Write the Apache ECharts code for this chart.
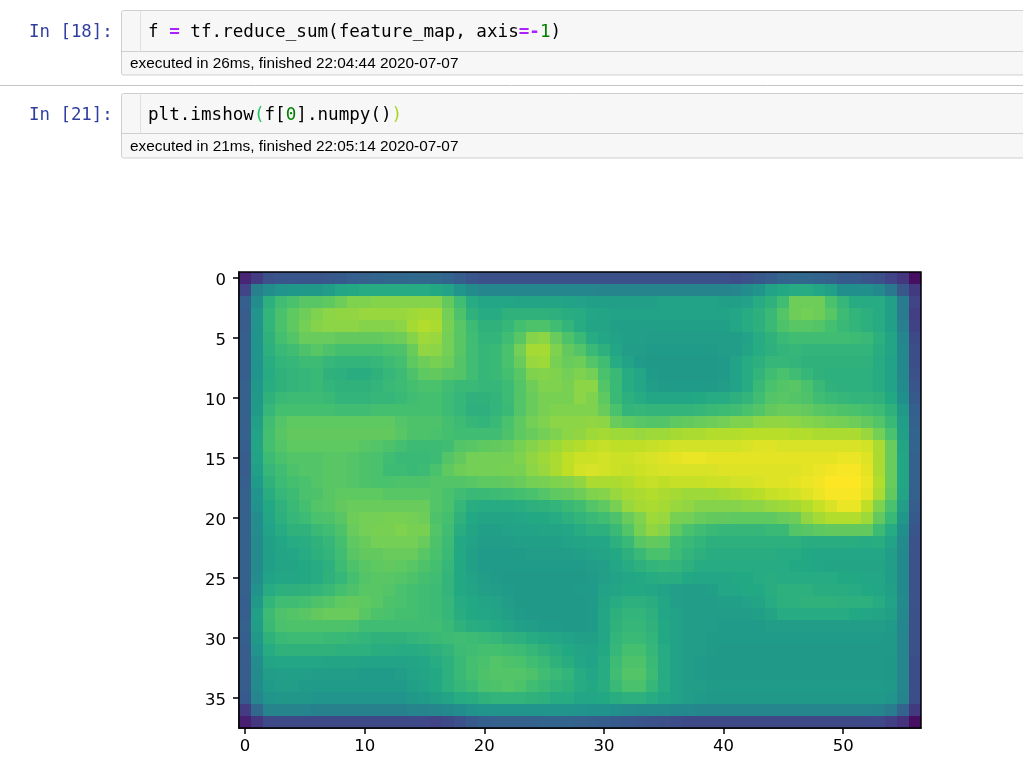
<!DOCTYPE html>
<html><head><meta charset="utf-8">
<style>html,body{margin:0;padding:0;background:#fff}#c{width:1023px;height:767px}</style>
<script src="https://cdn.jsdelivr.net/npm/echarts@6/dist/echarts.min.js"></script>
</head><body><div id="c"></div>
<script>
const xTicks = Array.from({length:57},(_,i)=>String(i));
const yTicks = Array.from({length:38},(_,i)=>String(i));
const footer1 = "executed in 26ms, finished 22:04:44 2020-07-07";
const footer2 = "executed in 21ms, finished 22:05:14 2020-07-07";
const rows = [
[8,15,22,24,24,24,24,25,26,28, 29,30,31,31,32,32,32,30,27,24, 22,22,22,22,22,22,22,22,22,22, 22,22,22,22,22,22,22,22,22,22, 22,21,23,25,27,30,31,31,30,29, 26,26,24,22,18,13,1],
[18,42,47,50,51,52,52,54,58,59, 60,60,60,60,60,60,59,56,50,46, 44,44,44,44,44,44,44,44,44,44, 43,43,43,43,43,43,43,43,43,43, 43,44,47,50,56,59,60,60,58,55, 48,48,48,45,38,25,14],
[28,47,62,68,70,73,73,74,77,80, 80,81,81,81,81,81,81,75,68,60, 58,58,58,57,57,57,57,56,56,55, 55,55,55,55,55,56,56,56,56,56, 55,55,56,60,63,68,77,77,77,70, 65,60,60,60,55,40,18],
[27,50,64,70,74,77,80,82,83,83, 84,84,84,84,85,86,86,78,71,63, 60,60,63,63,63,63,62,61,60,58, 57,56,56,56,56,56,56,56,56,56, 56,58,60,62,66,72,77,78,77,73, 67,64,62,60,55,40,16],
[27,50,64,70,74,78,81,82,82,82, 81,81,81,82,86,88,87,79,73,67, 63,63,65,69,71,71,68,64,60,57, 57,55,55,55,55,55,55,55,55,55, 55,58,60,62,66,71,73,73,72,69, 66,64,62,60,55,41,17],
[28,50,63,69,72,76,76,76,75,75, 75,75,76,77,81,85,84,78,73,68, 64,64,68,73,81,82,76,71,66,60, 58,56,55,55,54,54,54,54,54,54, 54,54,56,60,63,66,68,68,68,68, 68,67,66,62,57,44,20],
[28,50,62,66,68,71,73,71,69,69, 69,69,70,71,76,83,82,78,73,68, 65,66,70,78,86,86,80,75,72,66, 62,58,54,54,53,53,53,53,53,53, 54,54,57,60,62,64,65,64,64,64, 64,64,64,61,57,45,21],
[28,50,61,64,65,67,67,65,64,64, 64,65,67,69,74,77,79,77,72,68, 65,66,70,76,84,85,79,76,77,72, 68,60,56,53,52,52,52,52,52,52, 53,56,60,62,65,65,64,63,63,63, 63,63,63,60,56,45,21],
[28,50,60,63,64,65,66,63,62,61, 61,63,65,67,71,74,75,73,72,68, 65,66,69,73,80,81,80,78,80,78, 70,66,60,58,53,52,52,52,52,52, 53,56,60,64,68,70,68,65,63,62, 62,62,62,60,56,45,22],
[29,51,61,63,64,65,66,64,63,63, 63,64,66,67,69,70,70,68,66,66, 65,65,67,72,77,80,80,79,82,82, 72,66,60,58,54,53,53,53,53,53, 54,56,60,66,70,72,73,70,66,63, 62,62,62,60,56,46,24],
[29,52,63,66,67,67,67,66,64,64, 64,65,65,66,68,69,69,67,65,63, 63,64,67,72,76,79,79,79,82,80, 74,66,62,60,58,58,58,58,59,60, 60,62,64,68,72,73,72,71,68,66, 65,64,64,63,59,48,26],
[29,53,65,69,69,69,69,69,68,68, 68,69,69,69,69,69,69,67,65,62, 62,64,66,72,76,79,80,80,80,80, 76,70,64,65,64,64,64,64,65,66, 67,68,70,72,75,76,76,75,73,72, 71,70,69,67,63,52,28],
[29,55,68,72,74,74,74,74,74,74, 74,74,74,72,71,71,71,69,67,65, 64,66,70,74,78,80,82,82,82,83, 82,76,74,73,72,72,74,75,76,77, 78,80,80,82,83,83,82,81,80,79, 78,77,75,72,66,54,29],
[29,56,69,73,75,75,75,75,75,75, 75,75,75,73,71,71,70,69,68,68, 68,68,71,74,76,78,80,82,83,85, 86,85,85,84,85,85,86,87,87,88, 88,88,89,89,89,89,88,88,87,87, 87,87,84,78,70,55,30],
[28,57,69,72,74,74,74,74,74,74, 73,72,71,69,67,67,67,68,72,73, 74,75,76,79,81,83,85,87,88,90, 91,90,90,90,91,92,93,93,93,93, 93,93,94,95,95,94,94,94,94,94, 94,94,93,87,76,57,30],
[27,56,67,70,72,72,72,73,73,72, 71,70,68,66,66,66,67,72,75,78, 78,78,78,80,83,85,87,90,92,92, 93,92,92,93,94,95,96,97,97,96, 96,96,96,96,96,96,96,96,96,96, 97,97,95,87,76,58,29],
[27,55,65,68,71,72,72,73,73,72, 71,70,67,67,66,67,70,74,77,78, 78,78,79,79,82,84,87,90,93,94, 93,92,91,92,93,94,94,94,94,94, 95,95,95,95,95,95,95,96,97,98, 99,99,96,87,76,58,29],
[28,53,63,67,69,70,72,73,73,72, 71,70,70,71,71,71,72,72,72,73, 74,74,75,76,78,79,80,81,83,87, 87,87,88,90,91,90,91,91,91,92, 92,93,93,94,95,95,96,97,98,100, 100,100,97,88,76,58,29],
[29,50,61,65,67,70,71,73,74,74, 74,74,73,73,73,73,72,70,68,66, 66,67,68,69,70,72,74,75,77,80, 81,84,86,87,88,87,86,85,85,85, 86,87,88,89,91,92,93,95,97,99, 99,99,96,87,75,57,29],
[29,49,59,63,66,69,72,73,75,76, 76,76,76,76,76,76,72,70,65,61, 60,60,60,61,62,63,64,66,68,72, 74,79,84,86,87,86,84,83,81,81, 81,81,82,82,84,85,86,88,91,94, 97,97,90,80,70,54,27],
[29,47,58,62,65,67,70,71,73,77, 78,78,79,79,78,77,71,69,63,59, 57,57,57,58,59,59,60,62,64,66, 68,71,76,80,85,84,79,78,76,75, 75,74,74,74,74,76,77,83,86,88, 88,88,85,75,66,51,26],
[29,47,56,60,63,63,66,68,71,76, 78,79,79,80,79,79,72,68,61,57, 55,55,56,56,56,57,57,58,60,62, 62,66,72,79,83,81,74,70,68,66, 65,65,65,65,66,66,72,73,74,75, 75,75,75,67,60,48,24],
[29,46,55,58,60,61,63,65,69,74, 76,78,78,78,78,76,71,67,59,56, 54,54,54,55,55,55,55,56,57,58, 58,62,66,73,75,74,68,66,64,62, 62,62,62,62,62,62,62,61,61,61, 61,61,60,61,56,46,23],
[29,46,55,57,58,60,62,64,68,73, 75,75,76,76,76,73,70,66,59,55, 53,53,53,53,54,54,54,54,55,56, 57,59,62,66,70,70,67,64,62,61, 61,61,61,61,61,60,60,59,58,58, 58,58,58,58,54,45,23],
[29,46,55,57,57,59,60,62,67,71, 73,74,75,74,73,71,69,65,59,55, 53,53,53,53,53,53,53,53,53,54, 55,58,60,62,64,65,64,62,60,60, 60,60,60,60,60,60,59,59,58,57, 57,57,57,57,54,45,23],
[29,47,56,58,58,59,60,63,65,69, 72,73,73,72,71,69,68,64,59,56, 54,53,52,52,52,52,52,52,52,53, 55,56,58,59,60,61,61,59,58,58, 58,59,59,60,61,60,60,60,60,60, 59,59,58,58,54,45,23],
[29,49,60,62,62,63,64,66,69,71, 73,73,72,70,69,68,67,64,59,57, 55,54,53,52,52,52,52,52,53,53, 56,57,59,59,58,56,55,54,54,55, 58,58,59,59,61,62,62,62,61,61, 61,60,59,58,55,45,23],
[28,52,64,68,68,69,71,72,74,75, 74,73,71,70,69,68,67,65,60,59, 57,56,54,52,52,52,52,52,52,53, 57,60,62,62,61,58,55,54,54,54, 55,55,56,57,60,62,62,63,63,63, 62,62,62,60,56,46,23],
[28,55,67,71,72,73,75,76,76,76, 73,71,70,69,69,68,67,65,61,59, 58,57,55,53,52,52,52,52,52,53, 58,62,64,64,62,58,56,54,54,54, 54,54,54,55,57,60,60,60,60,60, 60,59,58,57,55,45,22],
[29,54,66,70,71,71,71,71,71,70, 68,68,68,68,68,68,68,66,63,61, 60,59,57,55,54,53,53,52,52,53, 58,63,65,65,63,59,56,54,54,54, 53,53,53,53,54,54,54,54,54,54, 54,54,54,54,53,44,22],
[28,52,63,66,67,67,67,66,66,65, 64,63,63,63,64,65,66,67,68,67, 66,65,63,62,60,59,58,56,55,55, 58,64,66,66,64,59,56,54,54,53, 53,53,53,53,53,53,53,53,53,53, 53,53,53,53,52,44,22],
[27,50,60,63,63,63,63,63,62,62, 62,61,61,60,60,61,62,64,67,68, 69,69,68,67,65,63,61,59,57,56, 59,65,69,69,65,60,56,54,54,53, 52,52,52,52,52,52,52,52,52,52, 52,52,52,52,52,44,22],
[27,47,57,58,58,58,58,57,57,57, 56,56,56,56,57,58,60,62,66,69, 70,72,71,70,68,66,63,61,58,56, 60,67,71,71,66,60,56,54,53,52, 52,52,52,52,52,52,52,52,52,52, 52,52,52,52,51,44,21],
[27,46,54,55,55,55,54,54,54,54, 53,53,53,54,56,57,59,62,66,69, 71,72,72,72,71,68,66,64,60,58, 60,68,72,72,67,60,56,54,53,52, 52,52,52,52,52,52,52,52,52,52, 52,52,52,52,51,44,21],
[27,46,53,54,54,53,53,53,53,53, 53,53,53,53,55,56,59,62,65,67, 70,71,72,71,68,66,64,63,60,59, 61,66,70,70,65,60,56,54,54,53, 53,53,53,53,53,53,53,53,53,53, 53,53,53,53,52,44,21],
[26,44,50,51,51,51,50,50,50,50, 50,50,50,50,52,53,55,57,60,61, 63,64,64,64,63,62,60,60,58,58, 59,61,62,62,60,58,56,54,53,52, 52,52,52,52,52,52,52,52,52,52, 52,52,52,52,50,43,21],
[15,32,43,43,43,43,42,42,42,42, 42,42,42,42,43,43,44,45,47,49, 50,50,50,50,50,50,50,50,50,49, 49,48,47,46,46,46,45,45,44,44, 44,44,44,44,44,44,44,44,44,44, 44,44,44,43,40,30,14],
[6,13,20,20,20,20,20,20,20,20, 20,20,20,20,20,19,18,20,22,26, 28,29,29,29,29,30,30,30,29,28, 27,26,25,24,23,22,21,20,20,20, 20,20,20,20,20,20,20,20,20,20, 20,20,20,19,16,12,1]
];
const viridis = ['#440154','#482475','#414487','#355f8d','#2a788e','#21918c','#22a884','#44bf70','#7ad151','#bddf26','#fde725'];

const cells = [];
rows.forEach((r,y)=>r.forEach((v,x)=>cells.push([x,y,v])));

const MONO = '"DejaVu Sans Mono",monospace', SANS = '"Liberation Sans",Arial,sans-serif';
const FS = 17.6;
const rich = {
  c:{fontFamily:MONO,fontSize:FS,fill:'#000'},
  o:{fontFamily:MONO,fontSize:FS,fontWeight:'bold',fill:'#AA22FF'},
  n:{fontFamily:MONO,fontSize:FS,fill:'#008000'},
  p:{fontFamily:MONO,fontSize:FS,fill:'#22c55e'},
  q:{fontFamily:MONO,fontSize:FS,fill:'#a8d820'}
};
function box(top,sep,bot){
  return [
    {type:'rect',z:1,shape:{x:121.5,y:top,width:910,height:bot-top,r:2},style:{fill:'#f7f7f7',stroke:'#cfcfcf',lineWidth:1}},
    {type:'line',z:2,shape:{x1:121.5,y1:sep,x2:1023,y2:sep},style:{stroke:'#cfcfcf',lineWidth:1}},
    {type:'line',z:2,shape:{x1:140.5,y1:top,x2:140.5,y2:sep},style:{stroke:'#e0e0e0',lineWidth:1}}
  ];
}
function prompt(t,y){return {type:'text',z:3,x:29,y:y,style:{text:t,fontFamily:MONO,fontSize:17.4,fill:'#303F9F',textVerticalAlign:'middle'}};}
function foot(t,y){return {type:'text',z:3,x:130,y:y,style:{text:t,fontFamily:SANS,fontSize:15.35,fill:'#000',textVerticalAlign:'middle'}};}
function code(t,y){return {type:'text',z:3,x:148,y:y,style:{text:t,rich:rich,textVerticalAlign:'middle'}};}

function renderCell(params, api){
  const c = api.coord([api.value(0), api.value(1)]);
  const s = api.size([1,1]);
  const x0 = Math.round(c[0]-s[0]/2), x1 = Math.round(c[0]+s[0]/2);
  const y0 = Math.round(c[1]-s[1]/2), y1 = Math.round(c[1]+s[1]/2);
  return {type:'rect',shape:{x:x0,y:y0,width:x1-x0,height:y1-y0},style:{fill:api.visual('color')}};
}

const chart = echarts.init(document.getElementById('c'),null,{renderer:'canvas'});
chart.setOption({
  animation:false,
  backgroundColor:'#fff',
  grid:{left:239,top:272,width:682,height:456,containLabel:false},
  xAxis:{type:'category',data:xTicks,position:'bottom',
    axisLine:{show:true,lineStyle:{color:'#000',width:1.5}},
    axisTick:{show:true,alignWithLabel:true,length:6,interval:9,lineStyle:{color:'#000',width:1.5}},
    axisLabel:{interval:9,color:'#000',fontFamily:'"DejaVu Sans"',fontSize:16.5,margin:10},
    splitLine:{show:false}},
  yAxis:{type:'category',data:yTicks,inverse:true,
    axisLine:{show:true,lineStyle:{color:'#000',width:1.5}},
    axisTick:{show:true,alignWithLabel:true,length:6,interval:4,lineStyle:{color:'#000',width:1.5}},
    axisLabel:{interval:4,margin:13,formatter:'{a|{value}}',
      rich:{a:{color:'#000',fontFamily:'"DejaVu Sans"',fontSize:16.5,padding:[6,0,0,0]}}},
    splitLine:{show:false}},
  visualMap:{show:false,min:-3,max:100,dimension:2,inRange:{color:viridis}},
  series:[{type:'custom',data:cells,encode:{x:0,y:1},renderItem:renderCell,progressive:0,clip:true,silent:true}],
  graphic:{elements:[
    ...box(10.5,51.5,75),
    ...box(93.5,133.5,158),
    {type:'line',z:2,shape:{x1:0,y1:85.5,x2:1023,y2:85.5},style:{stroke:'#c4c4c4',lineWidth:1}},
    prompt('In [18]:',32),
    prompt('In [21]:',115),
    code('{c|f }{o|=}{c| tf.reduce_sum(feature_map, axis}{o|=-}{n|1}{c|)}',32),
    code('{c|plt.imshow}{p|(}{c|f[}{n|0}{c|].numpy()}{q|)}',115),
    foot(footer1,64),
    foot(footer2,147),
    {type:'rect',z:10,silent:true,shape:{x:239,y:272,width:682,height:456},style:{fill:'none',stroke:'#000',lineWidth:1.5}}
  ]}
});
</script></body></html>
